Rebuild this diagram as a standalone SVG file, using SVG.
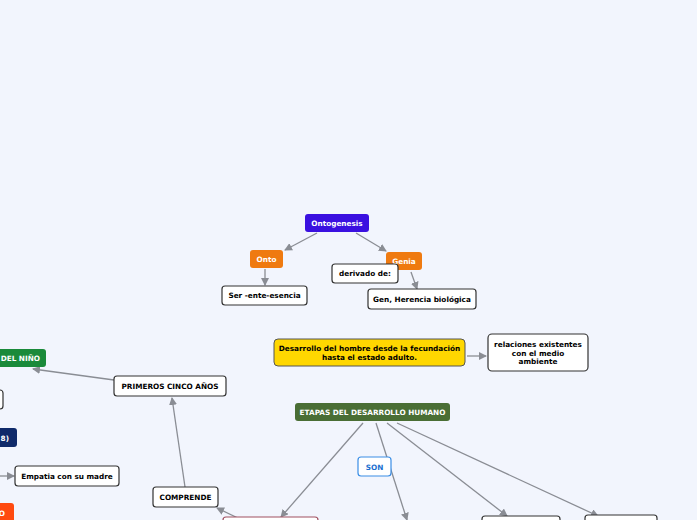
<svg xmlns="http://www.w3.org/2000/svg" width="697" height="520" viewBox="0 0 697 520">
<style>
text{font-family:Verdana,"DejaVu Sans",sans-serif;font-size:7.3px;font-weight:bold;text-anchor:middle}
.w{fill:#fff;stroke:#333;stroke-width:1.2}
.c line{stroke:#8a8d94;stroke-width:1.3;marker-end:url(#a)}
.l{fill:#fff}
</style>
<defs><marker id="a" markerWidth="8" markerHeight="8" refX="7" refY="4" orient="auto" markerUnits="userSpaceOnUse"><path d="M0,0L8,4L0,8z" fill="#8a8d94"/></marker></defs>
<rect width="697" height="520" fill="#f2f5fd"/>
<g class="c">
<line x1="317" y1="233" x2="285" y2="250"/>
<line x1="356" y1="233" x2="386" y2="251"/>
<line x1="265" y1="269" x2="265" y2="285"/>
<line x1="411" y1="272" x2="417" y2="289"/>
<line x1="467" y1="356" x2="486" y2="356"/>
<line x1="363" y1="423" x2="281" y2="517"/>
<line x1="376" y1="423" x2="407" y2="520"/>
<line x1="387" y1="423" x2="507" y2="516"/>
<line x1="397" y1="423" x2="598" y2="516"/>
<line x1="242" y1="520" x2="217" y2="508"/>
<line x1="185" y1="487" x2="172" y2="398"/>
<line x1="114" y1="380" x2="33" y2="369"/>
<line x1="0" y1="476" x2="14" y2="476"/>
</g>
<g id="ontogenesis"><rect x="305" y="214" width="64" height="18" rx="3" fill="#3a10e0"/><text x="337" y="226" class="l">Ontogenesis</text></g>
<g id="onto"><rect x="250" y="250" width="33" height="18" rx="3" fill="#ef7a10"/><text x="266.5" y="262" class="l">Onto</text></g>
<g id="genia"><rect x="386" y="252" width="36" height="18" rx="3" fill="#ef7a10"/><text x="404" y="264" class="l">Genia</text></g>
<g id="derivado"><rect x="332" y="264" width="66" height="19" rx="3" class="w"/><text x="365" y="276">derivado de:</text></g>
<g id="ser"><rect x="222" y="286" width="85" height="19" rx="3" class="w"/><text x="264.5" y="298">Ser -ente-esencia</text></g>
<g id="gen"><rect x="368" y="289" width="108" height="20" rx="3" class="w"/><text x="422" y="302">Gen, Herencia biológica</text></g>
<g id="desarrollo"><rect x="274" y="339" width="191" height="27" rx="4" fill="#ffd700" stroke="#555" stroke-width="1"/><text x="369.5" y="351">Desarrollo del hombre desde la fecundación</text><text x="369.5" y="360">hasta el estado adulto.</text></g>
<g id="relaciones"><rect x="488" y="334" width="100" height="37" rx="4" class="w"/><text x="538" y="347">relaciones existentes</text><text x="538" y="355.5">con el medio</text><text x="538" y="364">ambiente</text></g>
<g id="etapas"><rect x="295" y="403" width="155" height="18" rx="3" fill="#4a6e35"/><text x="372.5" y="415" class="l">ETAPAS DEL DESARROLLO HUMANO</text></g>
<g id="son"><rect x="358" y="457" width="33" height="19" rx="3" fill="#fff" stroke="#3a8ee6" stroke-width="1.2"/><text x="374.5" y="470" fill="#1a6fd0">SON</text></g>
<g id="primeros"><rect x="114" y="376" width="112" height="20" rx="3" class="w"/><text x="170" y="389">PRIMEROS CINCO AÑOS</text></g>
<g id="nino"><rect x="-20" y="349" width="66" height="18" rx="3" fill="#1a8a3a"/><text x="40" y="361" class="l" style="text-anchor:end">DEL NIÑO</text></g>
<g id="left1"><rect x="-20" y="390" width="23" height="19" rx="3" class="w"/></g>
<g id="left2"><rect x="-20" y="428" width="37" height="19" rx="3" fill="#0f2a6a"/><text x="9" y="441" class="l" style="text-anchor:end">8)</text></g>
<g id="empatia"><rect x="15" y="466" width="104" height="20" rx="3" class="w"/><text x="67" y="479">Empatia con su madre</text></g>
<g id="left3"><rect x="-20" y="503" width="34" height="20" rx="3" fill="#ff4a10"/><text x="5" y="516" class="l" style="text-anchor:end">O</text></g>
<g id="comprende"><rect x="153" y="487" width="65" height="20" rx="3" class="w"/><text x="185.5" y="500">COMPRENDE</text></g>
<g id="b1"><rect x="223" y="517" width="95" height="20" rx="3" fill="#fff" stroke="#a05060" stroke-width="1.2"/></g>
<g id="b2"><rect x="482" y="516" width="78" height="20" rx="3" class="w"/></g>
<g id="b3"><rect x="585" y="515" width="72" height="20" rx="3" class="w"/></g>
</svg>
